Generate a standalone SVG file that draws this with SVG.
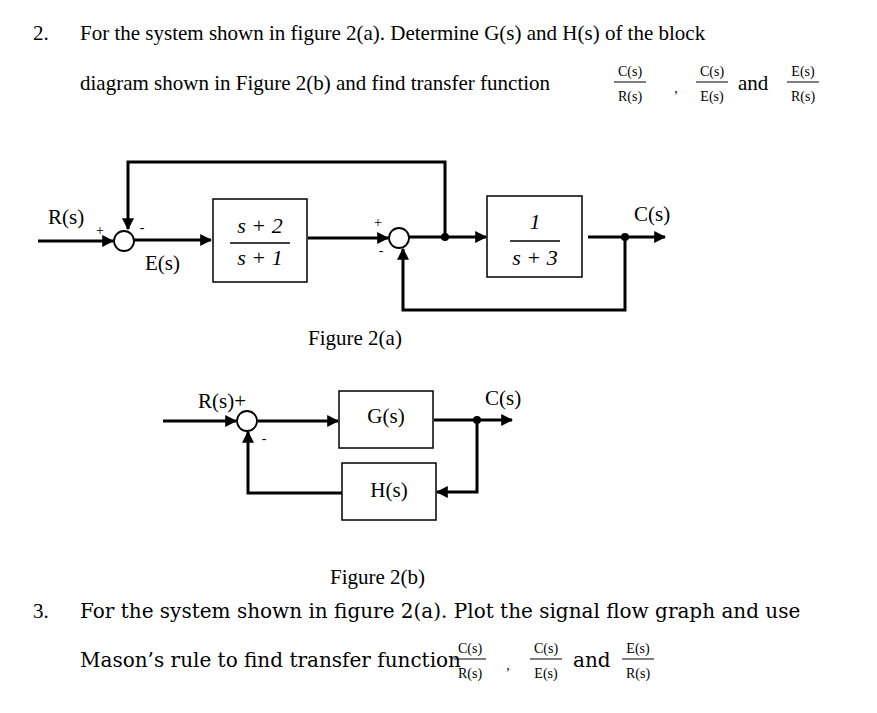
<svg xmlns="http://www.w3.org/2000/svg" width="877" height="713" viewBox="0 0 877 713">
<defs>
<style>
.t{font-family:"Liberation Serif",serif;font-size:21px;fill:#000}
.c{font-family:"DejaVu Serif","Liberation Serif",serif;font-size:20px;fill:#000}
.f{font-family:"Liberation Serif",serif;font-size:14px;fill:#000;text-anchor:middle}
.m{font-family:"Liberation Serif",serif;font-style:italic;font-size:22px;fill:#000;text-anchor:middle}
.w{stroke:#000;stroke-width:3;fill:none}
.b{stroke:#000;stroke-width:1.5;fill:#fff}
.s{stroke:#000;stroke-width:1.8;fill:#fff}
</style>
<marker id="a" viewBox="0 0 10 10" refX="9" refY="5" markerWidth="4" markerHeight="4" orient="auto"><path d="M0,0L10,5L0,10z" fill="#000"/></marker>
</defs>
<rect width="877" height="713" fill="#fff"/>
<g id="text">
<text class="t" x="33" y="40">2.</text>
<text class="t" x="80" y="40">For the system shown in figure 2(a). Determine G(s) and H(s) of the block</text>
<text class="t" x="80" y="90">diagram shown in Figure 2(b) and find transfer function</text>
<text class="f" x="630" y="76">C(s)</text><line x1="614" y1="82" x2="646" y2="82" stroke="#000"/><text class="f" x="630" y="101">R(s)</text>
<text class="f" x="676" y="93">,</text>
<text class="f" x="712" y="76">C(s)</text><line x1="696" y1="82" x2="728" y2="82" stroke="#000"/><text class="f" x="712" y="101">E(s)</text>
<text class="t" x="738" y="90">and</text>
<text class="f" x="803" y="76">E(s)</text><line x1="787" y1="82" x2="819" y2="82" stroke="#000"/><text class="f" x="803" y="101">R(s)</text>
<text class="t" x="308" y="345">Figure 2(a)</text>
<text class="t" x="330" y="584">Figure 2(b)</text>
<text class="t" x="33" y="618">3.</text>
<text class="c" x="80" y="618">For the system shown in figure 2(a). Plot the signal flow graph and use</text>
<text class="c" x="80" y="667">Mason’s rule to find transfer function</text>
<text class="f" x="470" y="653">C(s)</text><line x1="454" y1="659" x2="486" y2="659" stroke="#000"/><text class="f" x="470" y="678">R(s)</text>
<text class="f" x="508" y="670">,</text>
<text class="f" x="546" y="653">C(s)</text><line x1="530" y1="659" x2="562" y2="659" stroke="#000"/><text class="f" x="546" y="678">E(s)</text>
<text class="c" x="573" y="667">and</text>
<text class="f" x="638" y="653">E(s)</text><line x1="622" y1="659" x2="654" y2="659" stroke="#000"/><text class="f" x="638" y="678">R(s)</text>
</g>
<g id="connectors">
<line class="w" x1="38" y1="241" x2="113" y2="241" marker-end="url(#a)"/>
<polyline class="w" points="445,237 445,162 128,162 128,229" marker-end="url(#a)"/>
<line class="w" x1="134" y1="240" x2="211" y2="240" marker-end="url(#a)"/>
<line class="w" x1="308" y1="238" x2="388" y2="238" marker-end="url(#a)"/>
<line class="w" x1="409" y1="237" x2="486" y2="237" marker-end="url(#a)"/>
<line class="w" x1="588" y1="237" x2="665" y2="237" marker-end="url(#a)"/>
<polyline class="w" points="625,237 625,310 403,310 403,249" marker-end="url(#a)"/>
<circle cx="445" cy="237" r="4" fill="#000"/>
<circle cx="625" cy="237" r="4" fill="#000"/>
<line class="w" x1="163" y1="421" x2="236" y2="421" marker-end="url(#a)"/>
<line class="w" x1="258" y1="421" x2="338" y2="421" marker-end="url(#a)"/>
<line class="w" x1="434" y1="420" x2="512" y2="420" marker-end="url(#a)"/>
<polyline class="w" points="477,420 477,492 437,492" marker-end="url(#a)"/>
<polyline class="w" points="342,493 248,493 248,432" marker-end="url(#a)"/>
<circle cx="477" cy="420" r="4" fill="#000"/>
</g>
<g id="sum1"><circle class="s" cx="124" cy="241" r="10"/>
<text class="t" x="48" y="224">R(s)</text><text class="f" x="100" y="235">+</text><text class="f" x="142" y="232">-</text><text class="t" x="145" y="270">E(s)</text></g>
<g id="box1"><rect class="b" x="213" y="199" width="94" height="83"/>
<text class="m" x="260" y="233">s + 2</text><line x1="230" y1="243" x2="290" y2="243" stroke="#000" stroke-width="1.5"/><text class="m" x="260" y="265">s + 1</text></g>
<g id="sum2"><circle class="s" cx="399" cy="238" r="10"/><text class="f" x="378" y="227">+</text><text class="f" x="381" y="255">-</text></g>
<g id="box2"><rect class="b" x="487" y="196" width="95" height="81"/>
<text class="m" x="535" y="229">1</text><line x1="510" y1="241" x2="560" y2="241" stroke="#000" stroke-width="1.5"/><text class="m" x="535" y="265">s + 3</text>
<text class="t" x="634" y="221">C(s)</text></g>
<g id="sum3"><circle class="s" cx="247" cy="421" r="10"/><text class="t" x="198" y="408">R(s)+</text><text class="f" x="264" y="443">-</text></g>
<g id="boxG"><rect class="b" x="339" y="391" width="94" height="57"/><text class="t" x="386" y="423" text-anchor="middle">G(s)</text><text class="t" x="485" y="405">C(s)</text></g>
<g id="boxH"><rect class="b" x="342" y="463" width="94" height="57"/><text class="t" x="389" y="497" text-anchor="middle">H(s)</text></g>
</svg>
